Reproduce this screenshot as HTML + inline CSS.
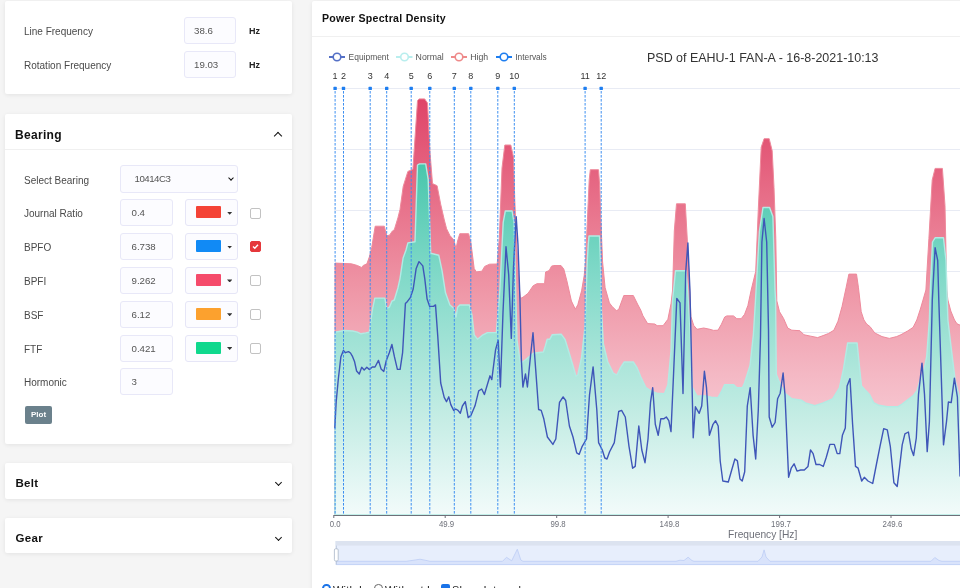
<!DOCTYPE html>
<html><head><meta charset="utf-8">
<style>
*{box-sizing:border-box;margin:0;padding:0}
html,body{width:960px;height:588px;overflow:hidden;background:#f5f5f5;font-family:"Liberation Sans",Arial,sans-serif}
.card{position:absolute;background:#fff;border-radius:2px;box-shadow:0 1px 4px rgba(0,0,0,0.08)}
.lbl{position:absolute;font-size:10px;color:#4a4a4a;white-space:nowrap}
.inp{position:absolute;border:1px solid #e8e8f8;background:#fcfcff;border-radius:3px;font-size:9.7px;color:#555;padding-left:10.5px;line-height:25.5px;height:27px}
.hz{position:absolute;font-size:9px;font-weight:bold;color:#222}
.hd{position:absolute;font-size:12px;font-weight:bold;color:#111;letter-spacing:0.3px}
.chev{position:absolute;width:6px;height:6px;border-right:1.8px solid #111;border-bottom:1.8px solid #111}
.cp{position:absolute;border:1px solid #e6e6f7;background:#fcfcff;border-radius:3px;width:53px;height:27px}
.cp i{position:absolute;left:10px;top:6px;width:25px;height:12px;border-radius:1px}
.cp b{position:absolute;left:41px;top:11.5px;width:5.4px;height:3px;background:#333;clip-path:polygon(0 0,100% 0,50% 100%)}
.cb{position:absolute;width:11px;height:11px;border:1px solid #c2c2c2;border-radius:2px;background:#fff}
svg text{font-family:"Liberation Sans",Arial,sans-serif}
.il{font-size:9px;fill:#333}
.al{font-size:8.6px;fill:#6e7079}
.lg{font-size:9px;fill:#555}
</style></head><body>

<!-- card 1 -->
<div class="card" style="left:5px;top:1px;width:287px;height:93px"></div>
<div class="lbl" style="left:24px;top:26px">Line Frequency</div>
<div class="inp" style="left:184px;top:17px;width:52px;padding-left:9px">38.6</div>
<div class="hz" style="left:249px;top:26px">Hz</div>
<div class="lbl" style="left:24px;top:60px">Rotation Frequency</div>
<div class="inp" style="left:184px;top:51px;width:52px;padding-left:9px">19.03</div>
<div class="hz" style="left:249px;top:60px">Hz</div>

<!-- card 2 bearing -->
<div class="card" style="left:5px;top:114px;width:287px;height:330px"></div>
<div class="hd" style="left:15px;top:127.5px">Bearing</div>
<div class="chev" style="left:275px;top:133px;transform:rotate(-135deg)"></div>
<div style="position:absolute;left:5px;top:149px;width:287px;height:1px;background:#f0f0f0"></div>
<div class="lbl" style="left:24px;top:174.5px">Select Bearing</div>
<div class="inp" style="left:120px;top:165.3px;width:118px;height:27.3px;padding-left:13.5px;letter-spacing:-0.5px">10414C3</div>
<div class="chev" style="left:229.2px;top:176px;width:4px;height:4px;border-width:1.5px;transform:rotate(45deg)"></div>

<div class="lbl" style="left:24px;top:207.9px">Journal Ratio</div>
<div class="inp" style="left:120px;top:199.3px;width:53px">0.4</div>
<div class="cp" style="left:185px;top:199.3px"><i style="background:#f44336"></i><b></b></div>
<div class="cb" style="left:250px;top:207.5px"></div>
<div class="lbl" style="left:24px;top:242.1px">BPFO</div>
<div class="inp" style="left:120px;top:233.1px;width:53px">6.738</div>
<div class="cp" style="left:185px;top:233.1px"><i style="background:#118af5"></i><b></b></div>
<div class="cb" style="left:250px;top:241.3px;background:#e5383b;border-color:#e5383b"><svg width="9" height="9" style="position:absolute;left:0;top:0"><path d="M2 4.6 L3.8 6.3 L7 2.8" stroke="#fff" stroke-width="1.4" fill="none"/></svg></div>
<div class="lbl" style="left:24px;top:276.1px">BPFI</div>
<div class="inp" style="left:120px;top:266.9px;width:53px">9.262</div>
<div class="cp" style="left:185px;top:266.9px"><i style="background:#f54a6b"></i><b></b></div>
<div class="cb" style="left:250px;top:275.1px"></div>
<div class="lbl" style="left:24px;top:309.7px">BSF</div>
<div class="inp" style="left:120px;top:300.7px;width:53px">6.12</div>
<div class="cp" style="left:185px;top:300.7px"><i style="background:#fca12e"></i><b></b></div>
<div class="cb" style="left:250px;top:308.9px"></div>
<div class="lbl" style="left:24px;top:343.5px">FTF</div>
<div class="inp" style="left:120px;top:334.5px;width:53px">0.421</div>
<div class="cp" style="left:185px;top:334.5px"><i style="background:#0fd88d"></i><b></b></div>
<div class="cb" style="left:250px;top:342.7px"></div>
<div class="lbl" style="left:24px;top:377.0px">Hormonic</div>
<div class="inp" style="left:120px;top:368.3px;width:53px">3</div>

<div style="position:absolute;left:25px;top:406px;width:27px;height:18px;background:#6b818c;border-radius:2px;color:#fff;font-size:8px;font-weight:bold;text-align:center;line-height:18px">Plot</div>

<!-- belt -->
<div class="card" style="left:5px;top:463px;width:287px;height:36px"></div>
<div class="hd" style="left:15.5px;top:477px;font-size:11.5px">Belt</div>
<div class="chev" style="left:276px;top:480px;width:5px;height:5px;transform:rotate(45deg)"></div>
<!-- gear -->
<div class="card" style="left:5px;top:518px;width:287px;height:35px"></div>
<div class="hd" style="left:15.5px;top:532px;font-size:11.5px">Gear</div>
<div class="chev" style="left:276px;top:535px;width:5px;height:5px;transform:rotate(45deg)"></div>

<!-- right card -->
<div class="card" style="left:312px;top:1px;width:660px;height:600px"></div>
<div class="hd" style="left:322px;top:12.2px;font-size:10.6px;letter-spacing:0.28px">Power Spectral Density</div>
<div style="position:absolute;left:312px;top:35.5px;width:648px;height:1px;background:#f0f0f0"></div>

<svg width="960" height="588" style="position:absolute;left:0;top:0">
<defs>
<linearGradient id="gHigh" x1="0" y1="99" x2="0" y2="515" gradientUnits="userSpaceOnUse">
<stop offset="0" stop-color="#df4468"/>
<stop offset="0.4688" stop-color="#ef98a8"/>
<stop offset="0.6611" stop-color="#f4b8c4"/>
<stop offset="1" stop-color="#fde6ec"/>
</linearGradient>
<linearGradient id="gNorm" x1="0" y1="164" x2="0" y2="515" gradientUnits="userSpaceOnUse">
<stop offset="0" stop-color="#48c6ac"/>
<stop offset="0.313" stop-color="#80d9c8"/>
<stop offset="0.729" stop-color="#c6ede5"/>
<stop offset="0.897" stop-color="#e2f6f3"/>
<stop offset="1" stop-color="#f2fbfa"/>
</linearGradient>
</defs>
<!-- legend -->
<g>
<line x1="329" y1="57" x2="345" y2="57" stroke="#5470c6" stroke-width="2"/><circle cx="337" cy="57" r="3.8" fill="#fff" stroke="#5470c6" stroke-width="1.6"/>
<text x="348.6" y="59.5" class="lg" textLength="40.3" lengthAdjust="spacingAndGlyphs">Equipment</text>
<line x1="396" y1="57" x2="412.5" y2="57" stroke="#b9eeee" stroke-width="2"/><circle cx="404.5" cy="57" r="3.8" fill="#fff" stroke="#b9eeee" stroke-width="1.6"/>
<text x="415.6" y="59.5" class="lg" textLength="28.2" lengthAdjust="spacingAndGlyphs">Normal</text>
<line x1="451" y1="57" x2="467" y2="57" stroke="#ee8a8a" stroke-width="2"/><circle cx="459" cy="57" r="3.8" fill="#fff" stroke="#ee8a8a" stroke-width="1.6"/>
<text x="470.3" y="59.5" class="lg" textLength="17.9" lengthAdjust="spacingAndGlyphs">High</text>
<line x1="496" y1="57" x2="512" y2="57" stroke="#1e7ef0" stroke-width="2"/><circle cx="504" cy="57" r="3.8" fill="#fff" stroke="#1e7ef0" stroke-width="1.6"/>
<text x="515.2" y="59.5" class="lg" textLength="31.6" lengthAdjust="spacingAndGlyphs">Intervals</text>
</g>
<text x="647" y="62.3" textLength="231.5" lengthAdjust="spacingAndGlyphs" style="font-size:13.6px;fill:#333">PSD of EAHU-1 FAN-A - 16-8-2021-10:13</text>
<line x1="334" y1="88.5" x2="960" y2="88.5" stroke="#e8ebf4" stroke-width="1"/>
<line x1="334" y1="149.5" x2="960" y2="149.5" stroke="#e8ebf4" stroke-width="1"/>
<line x1="334" y1="210.5" x2="960" y2="210.5" stroke="#e8ebf4" stroke-width="1"/>
<line x1="334" y1="271.5" x2="960" y2="271.5" stroke="#e8ebf4" stroke-width="1"/>
<line x1="334" y1="332.5" x2="960" y2="332.5" stroke="#e8ebf4" stroke-width="1"/>
<line x1="334" y1="393.5" x2="960" y2="393.5" stroke="#e8ebf4" stroke-width="1"/>
<line x1="334" y1="454.5" x2="960" y2="454.5" stroke="#e8ebf4" stroke-width="1"/>
<path d="M335.0 515.0 L335.0 263.1 L351.4 263.8 L357.4 265.5 L361.4 267.4 L363.3 265.5 L366.9 263.8 L369.3 257.1 L371.7 247.6 L375.2 226.2 L384.3 226.2 L386.7 235.7 L389.5 235.2 L392.4 231.0 L394.3 229.8 L397.9 217.9 L400.0 209.5 L403.2 186.4 L407.9 171.4 L412.9 169.3 L417.5 100.7 L419.1 98.9 L424.7 98.9 L427.5 103.0 L430.0 152.5 L432.5 183.6 L437.1 185.7 L440.7 204.3 L444.3 220.0 L446.6 228.8 L449.9 235.5 L453.8 239.9 L456.0 248.7 L457.6 241.0 L459.8 233.7 L468.6 233.7 L470.8 242.0 L474.2 268.6 L476.4 271.9 L481.9 271.2 L484.7 266.4 L489.6 264.2 L497.2 264.0 L499.3 238.7 L502.0 168.0 L504.8 145.0 L510.8 145.0 L513.5 157.2 L514.8 200.7 L516.7 244.0 L518.9 285.0 L520.4 298.5 L523.0 297.2 L528.0 293.4 L533.2 285.7 L537.0 283.7 L544.6 283.7 L545.6 272.0 L549.2 270.6 L551.5 266.2 L553.6 265.5 L561.0 265.5 L563.8 269.1 L566.8 280.6 L571.4 301.0 L575.3 309.2 L577.8 304.8 L581.6 290.8 L584.2 275.5 L585.5 262.0 L587.8 211.0 L589.2 180.0 L590.3 169.7 L598.5 169.7 L599.7 185.5 L600.5 211.0 L602.6 262.0 L605.1 287.6 L609.4 302.9 L611.9 306.2 L616.7 311.0 L619.0 308.6 L623.8 295.5 L633.3 295.5 L638.0 305.0 L640.7 310.0 L642.9 315.7 L647.6 323.6 L654.8 324.0 L657.1 325.7 L663.1 325.7 L667.9 319.3 L671.0 303.8 L672.6 290.0 L674.3 231.0 L676.5 203.8 L685.3 203.8 L687.3 240.0 L690.2 300.0 L690.9 316.5 L693.7 325.4 L697.0 329.3 L703.7 328.0 L709.9 329.3 L713.6 330.4 L718.0 330.2 L721.4 324.3 L724.7 317.0 L726.9 315.9 L733.5 315.9 L736.8 318.7 L741.2 318.7 L744.6 314.3 L747.9 305.5 L751.2 290.0 L755.7 271.5 L758.3 209.3 L761.2 147.2 L764.1 138.7 L769.2 138.7 L772.2 150.8 L774.0 187.4 L775.8 238.6 L776.8 300.8 L779.5 311.7 L783.6 318.5 L787.7 328.0 L791.8 330.2 L799.9 330.7 L804.0 334.8 L810.8 336.2 L817.6 337.6 L823.1 335.6 L828.5 333.5 L833.9 330.2 L838.0 321.2 L842.1 306.3 L846.2 287.2 L848.9 274.1 L856.5 274.1 L858.4 287.2 L861.2 311.7 L863.9 319.9 L866.6 324.0 L870.1 326.7 L874.7 332.9 L882.0 336.6 L889.3 338.4 L896.6 336.6 L901.0 334.7 L907.6 331.0 L913.1 327.4 L916.8 320.0 L920.4 309.0 L923.0 300.0 L925.9 290.0 L928.9 238.6 L932.2 180.0 L935.1 168.4 L942.4 168.4 L945.0 205.7 L946.8 290.0 L947.9 300.0 L950.8 311.0 L954.5 320.0 L957.0 323.8 L962.0 326.0 L962.0 515.0 Z" fill="url(#gHigh)" stroke="#ee8a9c" stroke-width="1" stroke-linejoin="round"/>
<path d="M335.0 515.0 L335.0 332.1 L344.3 330.5 L352.6 331.0 L357.4 332.1 L361.0 333.8 L365.7 332.9 L369.3 332.1 L372.4 309.5 L374.8 298.1 L384.8 298.1 L386.7 308.3 L389.5 307.1 L391.9 301.2 L394.3 300.0 L397.9 288.0 L400.0 278.6 L403.1 258.0 L406.0 250.0 L407.9 242.9 L415.0 241.8 L417.5 165.0 L419.5 163.9 L425.7 163.9 L428.2 179.3 L430.7 253.3 L438.8 255.3 L442.1 270.8 L445.5 292.8 L449.9 305.0 L453.8 308.3 L456.0 317.1 L457.6 307.2 L459.8 305.0 L469.3 305.0 L471.9 314.9 L474.2 334.8 L477.5 339.2 L483.0 334.8 L487.4 332.6 L496.4 332.6 L499.9 289.8 L503.2 222.4 L505.3 211.0 L512.1 211.0 L514.0 222.4 L515.7 290.0 L517.0 340.0 L520.4 363.5 L525.5 359.7 L533.2 353.3 L543.4 352.0 L545.4 345.7 L547.2 339.3 L549.7 339.3 L552.3 334.7 L561.2 334.2 L565.0 339.3 L568.9 352.0 L572.7 364.8 L576.0 376.3 L577.8 375.0 L581.6 357.1 L585.0 326.5 L585.7 308.0 L587.2 262.0 L588.2 245.0 L589.0 236.0 L599.5 236.0 L600.5 262.0 L601.3 308.0 L603.4 344.0 L607.8 362.0 L613.2 373.0 L616.9 375.0 L620.5 367.6 L624.2 362.0 L633.3 362.0 L637.0 367.6 L640.7 376.8 L646.0 387.7 L651.6 391.4 L657.0 393.2 L664.4 393.8 L667.9 384.8 L671.0 351.4 L672.6 300.0 L675.5 270.7 L686.0 270.7 L687.6 290.0 L690.0 330.0 L692.2 387.2 L697.0 396.1 L703.7 395.6 L711.4 397.2 L718.0 397.6 L721.4 391.7 L724.7 384.6 L733.5 384.6 L736.8 387.7 L742.4 387.7 L744.6 382.8 L750.1 365.1 L753.4 334.2 L755.5 300.0 L759.4 231.3 L763.0 207.5 L769.6 207.5 L772.9 216.6 L775.0 290.0 L775.6 300.0 L776.3 374.3 L779.5 382.4 L785.0 393.3 L791.8 398.8 L801.3 400.1 L805.4 402.9 L814.9 405.6 L823.1 402.9 L832.6 398.8 L839.4 387.9 L843.5 368.8 L847.6 343.0 L857.1 343.0 L859.8 370.0 L861.5 386.0 L865.4 390.3 L869.5 394.4 L873.6 402.6 L879.0 405.3 L887.2 406.7 L898.1 406.7 L902.2 404.0 L907.6 399.9 L913.1 395.8 L917.1 390.3 L919.9 380.8 L924.0 369.9 L926.7 356.3 L929.4 320.0 L930.3 290.0 L932.5 242.0 L935.1 237.8 L943.5 237.8 L946.0 260.5 L947.2 300.0 L947.9 320.0 L951.6 351.2 L955.2 380.4 L958.9 395.0 L962.0 397.0 L962.0 515.0 Z" fill="url(#gNorm)" stroke="#b2ebe4" stroke-width="1.4" stroke-linejoin="round"/>
<path d="M334.8 428.2 L336.2 401.6 L338.3 379.2 L340.9 356.7 L343.4 350.6 L345.4 352.7 L348.5 351.6 L350.5 353.0 L352.6 356.7 L354.6 361.8 L356.6 371.0 L359.3 374.0 L361.7 367.3 L364.2 370.0 L366.8 367.3 L369.5 369.6 L372.3 367.0 L375.0 367.0 L378.5 360.4 L381.1 369.0 L383.8 371.4 L386.2 360.8 L389.3 352.7 L391.9 344.5 L394.4 356.7 L397.4 369.4 L400.1 369.4 L402.6 352.7 L405.4 303.5 L407.5 301.4 L410.3 297.7 L413.2 289.0 L416.1 268.8 L419.0 261.6 L422.8 265.9 L424.8 278.9 L427.1 299.1 L429.7 306.4 L433.5 306.4 L435.5 304.9 L437.8 336.7 L440.7 383.0 L444.2 397.4 L446.5 401.7 L448.8 396.8 L450.8 404.6 L453.7 410.4 L455.7 409.0 L458.0 410.4 L460.3 413.3 L462.4 406.0 L465.3 401.7 L468.2 417.6 L471.0 415.3 L475.0 405.8 L478.7 390.8 L481.7 389.0 L484.4 394.5 L490.0 375.8 L491.8 379.6 L495.6 349.6 L498.2 340.3 L500.4 387.0 L503.0 312.2 L506.0 246.8 L508.7 274.8 L511.3 338.4 L513.5 267.3 L516.2 216.8 L518.0 244.9 L519.9 297.3 L521.4 360.9 L522.9 387.0 L525.5 374.0 L527.4 387.0 L530.4 357.1 L533.0 332.8 L535.6 368.3 L538.6 409.5 L541.2 410.4 L543.8 418.8 L547.4 437.0 L552.9 444.4 L555.8 439.0 L559.5 402.4 L563.1 396.9 L565.7 400.5 L569.4 426.0 L573.0 437.0 L576.7 452.8 L579.2 454.3 L582.2 446.3 L586.5 439.0 L589.5 395.0 L593.1 366.9 L596.8 409.7 L598.6 442.6 L602.3 450.0 L604.8 458.0 L607.0 459.0 L609.6 451.7 L614.3 442.6 L618.7 411.5 L621.6 410.4 L625.3 417.0 L629.0 446.3 L632.6 468.2 L635.2 466.4 L638.8 426.0 L641.8 450.0 L645.0 462.7 L648.0 439.0 L650.5 402.4 L652.7 387.7 L655.3 424.3 L658.2 435.3 L660.8 418.8 L663.7 418.8 L666.3 417.0 L668.8 420.7 L671.0 431.6 L673.6 373.0 L676.8 298.4 L680.0 302.8 L683.0 393.5 L685.7 271.9 L687.9 243.0 L690.0 291.8 L693.2 437.8 L695.4 406.8 L699.2 413.3 L701.7 406.0 L704.4 371.3 L706.5 387.7 L709.4 435.3 L713.0 424.3 L715.6 420.7 L718.2 426.0 L720.2 461.0 L722.8 481.0 L728.3 482.0 L731.2 471.8 L734.9 459.0 L737.4 460.9 L740.0 479.0 L742.2 481.0 L744.7 471.8 L747.3 406.0 L750.2 387.7 L753.1 435.3 L755.7 459.0 L758.3 409.7 L760.5 336.6 L761.9 242.0 L764.1 218.5 L766.7 242.0 L768.5 330.0 L769.2 417.0 L772.2 427.2 L775.1 422.5 L777.6 398.7 L780.2 393.2 L783.1 373.0 L785.0 395.0 L788.6 477.3 L791.2 468.2 L794.1 463.8 L797.0 471.1 L800.7 470.0 L804.3 470.0 L808.0 466.4 L810.5 449.9 L813.1 453.6 L816.0 464.5 L819.7 464.5 L823.3 466.4 L826.3 457.2 L829.9 444.4 L834.3 444.4 L837.2 453.6 L839.8 453.6 L842.4 435.3 L845.3 428.0 L847.1 386.0 L850.0 378.6 L852.6 424.3 L855.5 466.4 L858.1 468.2 L861.7 481.0 L864.3 477.3 L868.0 481.0 L872.7 483.5 L876.4 464.5 L880.0 446.3 L883.7 428.7 L887.3 429.8 L890.3 446.3 L893.9 482.8 L897.2 486.5 L899.5 467.9 L902.2 444.8 L904.9 433.9 L908.4 432.0 L911.2 448.8 L913.6 455.6 L916.3 438.0 L918.5 394.4 L922.0 363.1 L924.5 394.4 L927.2 451.6 L929.4 421.6 L932.3 300.0 L935.1 247.7 L937.7 260.5 L938.8 300.0 L943.5 444.8 L946.5 421.6 L948.4 402.0 L951.2 402.6 L954.4 378.1 L957.4 397.1 L960.0 476.0 L962.0 470.0" fill="none" stroke="#3f56b8" stroke-width="1.4" stroke-linejoin="round"/>
<line x1="335.1" y1="91" x2="335.1" y2="515" stroke="#3d8ff0" stroke-width="1" stroke-dasharray="2.6 1.4"/>
<rect x="333.4" y="86.8" width="3.4" height="3.2" rx="0.6" fill="#1e7ef0"/>
<text x="335.1" y="79.2" text-anchor="middle" class="il">1</text>
<line x1="343.5" y1="91" x2="343.5" y2="515" stroke="#3d8ff0" stroke-width="1" stroke-dasharray="2.6 1.4"/>
<rect x="341.8" y="86.8" width="3.4" height="3.2" rx="0.6" fill="#1e7ef0"/>
<text x="343.5" y="79.2" text-anchor="middle" class="il">2</text>
<line x1="370.2" y1="91" x2="370.2" y2="515" stroke="#3d8ff0" stroke-width="1" stroke-dasharray="2.6 1.4"/>
<rect x="368.5" y="86.8" width="3.4" height="3.2" rx="0.6" fill="#1e7ef0"/>
<text x="370.2" y="79.2" text-anchor="middle" class="il">3</text>
<line x1="386.7" y1="91" x2="386.7" y2="515" stroke="#3d8ff0" stroke-width="1" stroke-dasharray="2.6 1.4"/>
<rect x="385.0" y="86.8" width="3.4" height="3.2" rx="0.6" fill="#1e7ef0"/>
<text x="386.7" y="79.2" text-anchor="middle" class="il">4</text>
<line x1="411.2" y1="91" x2="411.2" y2="515" stroke="#3d8ff0" stroke-width="1" stroke-dasharray="2.6 1.4"/>
<rect x="409.5" y="86.8" width="3.4" height="3.2" rx="0.6" fill="#1e7ef0"/>
<text x="411.2" y="79.2" text-anchor="middle" class="il">5</text>
<line x1="429.8" y1="91" x2="429.8" y2="515" stroke="#3d8ff0" stroke-width="1" stroke-dasharray="2.6 1.4"/>
<rect x="428.1" y="86.8" width="3.4" height="3.2" rx="0.6" fill="#1e7ef0"/>
<text x="429.8" y="79.2" text-anchor="middle" class="il">6</text>
<line x1="454.3" y1="91" x2="454.3" y2="515" stroke="#3d8ff0" stroke-width="1" stroke-dasharray="2.6 1.4"/>
<rect x="452.6" y="86.8" width="3.4" height="3.2" rx="0.6" fill="#1e7ef0"/>
<text x="454.3" y="79.2" text-anchor="middle" class="il">7</text>
<line x1="470.8" y1="91" x2="470.8" y2="515" stroke="#3d8ff0" stroke-width="1" stroke-dasharray="2.6 1.4"/>
<rect x="469.1" y="86.8" width="3.4" height="3.2" rx="0.6" fill="#1e7ef0"/>
<text x="470.8" y="79.2" text-anchor="middle" class="il">8</text>
<line x1="497.8" y1="91" x2="497.8" y2="515" stroke="#3d8ff0" stroke-width="1" stroke-dasharray="2.6 1.4"/>
<rect x="496.1" y="86.8" width="3.4" height="3.2" rx="0.6" fill="#1e7ef0"/>
<text x="497.8" y="79.2" text-anchor="middle" class="il">9</text>
<line x1="514.3" y1="91" x2="514.3" y2="515" stroke="#3d8ff0" stroke-width="1" stroke-dasharray="2.6 1.4"/>
<rect x="512.6" y="86.8" width="3.4" height="3.2" rx="0.6" fill="#1e7ef0"/>
<text x="514.3" y="79.2" text-anchor="middle" class="il">10</text>
<line x1="585.1" y1="91" x2="585.1" y2="515" stroke="#3d8ff0" stroke-width="1" stroke-dasharray="2.6 1.4"/>
<rect x="583.4" y="86.8" width="3.4" height="3.2" rx="0.6" fill="#1e7ef0"/>
<text x="585.1" y="79.2" text-anchor="middle" class="il">11</text>
<line x1="601.2" y1="91" x2="601.2" y2="515" stroke="#3d8ff0" stroke-width="1" stroke-dasharray="2.6 1.4"/>
<rect x="599.5" y="86.8" width="3.4" height="3.2" rx="0.6" fill="#1e7ef0"/>
<text x="601.2" y="79.2" text-anchor="middle" class="il">12</text>
<line x1="333.8" y1="515.5" x2="960" y2="515.5" stroke="#6e7079" stroke-width="1"/>
<line x1="333.8" y1="515" x2="333.8" y2="518" stroke="#6e7079" stroke-width="1"/>
<text x="335.2" y="526.5" text-anchor="middle" class="al" textLength="10.8" lengthAdjust="spacingAndGlyphs">0.0</text>
<line x1="445.2" y1="515" x2="445.2" y2="518" stroke="#6e7079" stroke-width="1"/>
<text x="446.6" y="526.5" text-anchor="middle" class="al" textLength="15.2" lengthAdjust="spacingAndGlyphs">49.9</text>
<line x1="556.7" y1="515" x2="556.7" y2="518" stroke="#6e7079" stroke-width="1"/>
<text x="558.1" y="526.5" text-anchor="middle" class="al" textLength="15.2" lengthAdjust="spacingAndGlyphs">99.8</text>
<line x1="668.1" y1="515" x2="668.1" y2="518" stroke="#6e7079" stroke-width="1"/>
<text x="669.5" y="526.5" text-anchor="middle" class="al" textLength="19.8" lengthAdjust="spacingAndGlyphs">149.8</text>
<line x1="779.6" y1="515" x2="779.6" y2="518" stroke="#6e7079" stroke-width="1"/>
<text x="781.0" y="526.5" text-anchor="middle" class="al" textLength="19.8" lengthAdjust="spacingAndGlyphs">199.7</text>
<line x1="891.0" y1="515" x2="891.0" y2="518" stroke="#6e7079" stroke-width="1"/>
<text x="892.4" y="526.5" text-anchor="middle" class="al" textLength="19.8" lengthAdjust="spacingAndGlyphs">249.6</text>
<text x="728" y="538.4" textLength="69.3" lengthAdjust="spacingAndGlyphs" style="font-size:10.6px;fill:#6e7079">Frequency [Hz]</text>
<!-- datazoom -->
<rect x="335.5" y="541" width="630" height="24" fill="#e7eefc"/>
<rect x="335.5" y="541" width="630" height="4.6" fill="#dce3f0"/>
<path d="M336.5 561.3 L406 561.3 L414 560.2 L420 559.2 L426 560.4 L430 561.3 L502.5 561.3 L506.5 557.3 L511.7 560.8 L517.3 549.2 L520.8 560 L523 561.3 L676 561.3 L680 560.2 L684 560.5 L688.1 557.2 L692 560.6 L694 561.3 L758 561.3 L762 557 L764.1 549.9 L766 557 L770 561.3 L931 561.3 L934.8 557.5 L939 560.5 L942 561.3 L965 561.3 L965 564.6 L336.5 564.6 Z" fill="#d9e3fb" stroke="#bccdf5" stroke-width="0.8"/>
<line x1="336.3" y1="545.5" x2="336.3" y2="564.6" stroke="#bcc8dc" stroke-width="1"/>
<rect x="334.4" y="548.8" width="3.8" height="12.2" rx="1.2" fill="#fff" stroke="#aab6c8" stroke-width="0.8"/>
</svg>

<!-- bottom controls -->
<div style="position:absolute;left:322px;top:584px;width:8.5px;height:8.5px;border-radius:50%;border:2.5px solid #1a73e8;background:#fff"></div>
<div style="position:absolute;left:333px;top:584px;font-size:11px;color:#222;letter-spacing:0.2px">With Log</div>
<div style="position:absolute;left:374px;top:584px;width:8.5px;height:8.5px;border-radius:50%;border:1px solid #666;background:#fff"></div>
<div style="position:absolute;left:385px;top:584px;font-size:11px;color:#222;letter-spacing:0.2px">Without Log</div>
<div style="position:absolute;left:441px;top:584px;width:8.5px;height:8.5px;border-radius:2px;background:#1a73e8"></div>
<div style="position:absolute;left:452px;top:584px;font-size:11px;color:#222;letter-spacing:0.2px">Show Intervals</div>
</body></html>
